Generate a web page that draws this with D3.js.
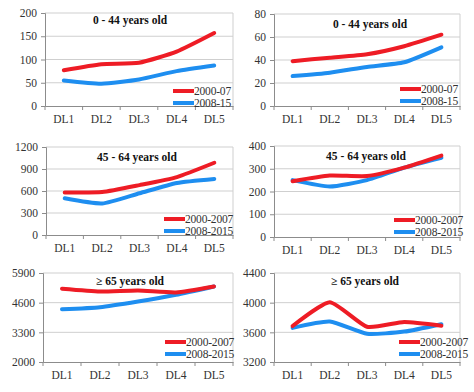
<!DOCTYPE html>
<html><head><meta charset="utf-8">
<script src="https://cdnjs.cloudflare.com/ajax/libs/d3/7.8.5/d3.min.js"></script>
<style>
body{margin:0;background:#fff;}
text{font-family:"Liberation Serif","Times New Roman",serif;}
</style></head>
<body><svg id="c" width="474" height="392"></svg>
<script>
const categories = ["DL1","DL2","DL3","DL4","DL5"];
const titles = ["0 - 44  years old","0 - 44 years old","45 - 64 years old","45 - 64 years old","\u2265 65 years old","\u2265 65 years old"];
const legendA = ["2000-07","2000-07","2000-2007","2000-2007","2000-2007","2000-2007"];
const legendB = ["2008-15","2008-15","2008-2015","2008-2015","2008-2015","2008-2015"];
const yTicks = [
  [0,50,100,150,200],
  [0,20,40,60,80],
  [0,300,600,900,1200],
  [0,100,200,300,400],
  [2000,3300,4600,5900],
  [3200,3600,4000,4400]
];
const seriesA = [
  [77,90,93,117,157],
  [39,42,45,52,62],
  [580,585,680,790,985],
  [245,270,268,305,358],
  [5210,5090,5135,5050,5310],
  [3685,4006,3675,3740,3690]
];
const seriesB = [
  [55,48,57,75,87],
  [26,29,34,38,51],
  [500,430,570,710,765],
  [250,222,250,305,348],
  [4310,4400,4650,4945,5310],
  [3660,3745,3580,3610,3710]
];

const layout = [
  {x0:45,x1:233,y0:13,y1:106,tx:130,ty:24,lx:173,ly:91},
  {x0:274,x1:460,y0:14,y1:106,tx:370,ty:28,lx:400,ly:89},
  {x0:46,x1:233,y0:147,y1:235,tx:137,ty:161,lx:164,ly:219},
  {x0:274,x1:460,y0:146,y1:237,tx:366,ty:160,lx:394,ly:220},
  {x0:43,x1:233,y0:273,y1:362,tx:130,ty:285,lx:165,ly:342},
  {x0:274,x1:460,y0:273,y1:362,tx:365,ty:285,lx:399,ly:342}
];
const RED="#ee1c25", BLUE="#1e8ef0", GRID="#cfcfcf", AXIS="#8c8c8c", TXT="#333";
const svg = d3.select("#c");

layout.forEach((L,i)=>{
  const g = svg.append("g");
  const x = d3.scaleBand().domain(categories).range([L.x0,L.x1]);
  const t = yTicks[i];
  const y = d3.scaleLinear().domain([t[0],t[t.length-1]]).range([L.y1,L.y0]);
  g.selectAll(".gr").data(t.slice(1)).join("line")
    .attr("x1",L.x0).attr("x2",L.x1).attr("y1",d=>y(d)).attr("y2",d=>y(d))
    .attr("stroke",GRID).attr("stroke-width",1);
  g.append("line").attr("x1",L.x1).attr("x2",L.x1).attr("y1",L.y0).attr("y2",L.y1)
    .attr("stroke",GRID);
  const ya = g.append("g").attr("transform",`translate(${L.x0},0)`)
    .call(d3.axisLeft(y).tickValues(t).tickSize(4).tickPadding(4).tickFormat(d3.format("d")));
  ya.select(".domain").attr("stroke",AXIS);
  ya.selectAll(".tick line").attr("stroke",AXIS);
  ya.selectAll("text").attr("fill",TXT).style("font-size","11.5px").style("font-family","Liberation Serif, serif");
  const xa = g.append("g").attr("transform",`translate(0,${L.y1})`)
    .call(d3.axisBottom(x).tickSize(0).tickPadding(9).tickSizeOuter(0));
  xa.select(".domain").attr("stroke",AXIS);
  xa.selectAll("text").attr("fill",TXT).style("font-size","11.5px").style("font-family","Liberation Serif, serif");
  const bounds = d3.range(categories.length+1).map(k=>x.range()[0]+k*x.step());
  g.selectAll(".xt").data(bounds).join("line")
    .attr("x1",d=>d).attr("x2",d=>d).attr("y1",L.y1).attr("y2",L.y1+4)
    .attr("stroke",AXIS);
  const line = d3.line().x((d,k)=>x(categories[k])+x.bandwidth()/2).y(d=>y(d))
    .curve(d3.curveCardinal.tension(0.45));
  [[seriesB[i],BLUE],[seriesA[i],RED]].forEach(([s,c])=>{
    g.append("path").datum(s).attr("d",line).attr("fill","none")
      .attr("stroke",c).attr("stroke-width",4).attr("stroke-linecap","round");
  });
  g.append("text").attr("x",L.tx).attr("y",L.ty).attr("text-anchor","middle")
    .attr("font-weight","bold").attr("fill","#111").style("font-size","11.5px").text(titles[i]);
  [[legendA[i],RED,0],[legendB[i],BLUE,12]].forEach(([lab,c,dy])=>{
    g.append("line").attr("x1",L.lx).attr("x2",L.lx+21).attr("y1",L.ly+dy).attr("y2",L.ly+dy)
      .attr("stroke",c).attr("stroke-width",4);
    g.append("text").attr("x",L.lx+21).attr("y",L.ly+dy+4).attr("fill",TXT)
      .style("font-size","11.5px").style("letter-spacing","-0.2px").text(lab);
  });
});
</script></body></html>
